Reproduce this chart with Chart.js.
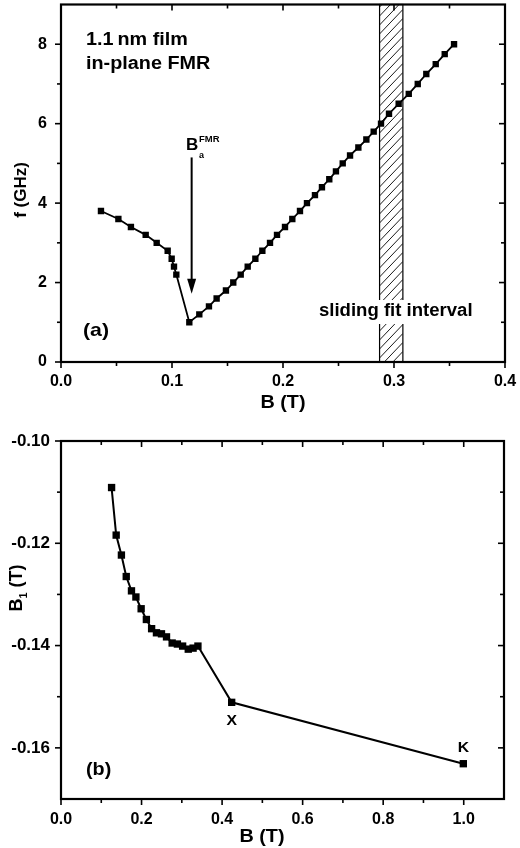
<!DOCTYPE html>
<html><head><meta charset="utf-8">
<script src="https://cdn.jsdelivr.net/npm/chart.js@4/dist/chart.umd.min.js"></script>
<style>
html,body{margin:0;padding:0;background:#fff;width:520px;height:848px;overflow:hidden}
.box{position:absolute;left:0;width:520px}
#b1{top:0;height:420px}
#b2{top:420px;height:428px}
</style></head><body>
<div class="box" id="b1"><canvas id="c1"></canvas></div>
<div class="box" id="b2"><canvas id="c2"></canvas></div>
<script>
// ---------- panel (a) data ----------
const topB = [0.036,0.0517,0.063,0.0763,0.0862,0.0961,0.0997,0.1018,0.1039,
  0.1156,0.1246,0.1333,0.1402,0.1486,0.1552,0.1619,0.1682,0.1751,0.1814,
  0.1883,0.1946,0.2018,0.2084,0.2153,0.2216,0.2288,0.2351,0.2417,0.2477,
  0.2538,0.2604,0.2679,0.2751,0.2817,0.2883,0.2955,0.3042,0.3133,0.3214,
  0.3291,0.3376,0.3457,0.3541];
const topF = [3.8,3.6,3.4,3.2,3.0,2.8,2.6,2.4,2.2,
  1.0,1.2,1.4,1.6,1.8,2.0,2.2,2.4,2.6,2.8,
  3.0,3.2,3.4,3.6,3.8,4.0,4.2,4.4,4.6,4.8,
  5.0,5.2,5.4,5.6,5.8,6.0,6.25,6.5,6.75,7.0,
  7.25,7.5,7.75,8.0];
const topXTicks = [0.0,0.1,0.2,0.3,0.4];
const topXMinor = [0.05,0.15,0.25,0.35];
const topYTicks = [0,2,4,6,8];
const topYMinor = [1,3,5,7];
const fitInterval = [0.287,0.308];
const arrowB = 0.1177, arrowFrom = 5.15, arrowTo = 1.72;

// ---------- panel (b) data ----------
const botB = [0.1256,0.137,0.150,0.162,0.175,0.186,0.199,0.212,0.225,0.237,
  0.2495,0.262,0.276,0.289,0.302,0.316,0.328,0.340,0.4238,0.999];
const botB1 = [-0.1091,-0.1184,-0.1223,-0.1265,-0.1293,-0.1305,-0.1328,-0.1349,-0.1367,-0.1375,
  -0.1377,-0.1383,-0.1395,-0.1397,-0.1401,-0.1407,-0.1405,-0.1401,-0.1511,-0.1631];
const botXTicks = [0.0,0.2,0.4,0.6,0.8,1.0];
const botXMinor = [0.1,0.3,0.5,0.7,0.9];
const botYTicks = [-0.16,-0.14,-0.12,-0.10];
const botYMinor = [-0.15,-0.13,-0.11];
const markLabels = [{i:18,text:'X',dy:23},{i:19,text:'K',dy:-12}];

const FONT = '"Liberation Sans", Arial, sans-serif';

function line(ctx,x1,y1,x2,y2){ctx.beginPath();ctx.moveTo(x1,y1);ctx.lineTo(x2,y2);ctx.stroke();}
// text with a slight horizontal stretch, as in the original figure
function txt(ctx,s,x,y,size,align,sx){
  sx=sx||1.1;
  ctx.save();
  ctx.font='bold '+size+'px '+FONT;
  ctx.textAlign=align||'left';
  ctx.translate(x,y); ctx.scale(sx,1);
  ctx.fillText(s,0,0);
  ctx.restore();
}

function drawFrame(chart, xT, xM, yT, yM){
  const {ctx, chartArea:a, scales:{x,y}} = chart;
  ctx.save();
  ctx.strokeStyle='#000';
  ctx.lineWidth=1.6;
  const MJ=6, MN=4;
  xT.forEach(v=>{const p=x.getPixelForValue(v); line(ctx,p,a.bottom,p,a.bottom+MJ); line(ctx,p,a.top,p,a.top+MJ);});
  xM.forEach(v=>{const p=x.getPixelForValue(v); line(ctx,p,a.bottom,p,a.bottom+MN); line(ctx,p,a.top,p,a.top+MN);});
  yT.forEach(v=>{const p=y.getPixelForValue(v); line(ctx,a.left,p,a.left-MJ,p); line(ctx,a.right,p,a.right-MJ,p);});
  yM.forEach(v=>{const p=y.getPixelForValue(v); line(ctx,a.left,p,a.left-MN,p); line(ctx,a.right,p,a.right-MN,p);});
  ctx.lineWidth=2.2;
  ctx.strokeRect(a.left,a.top,a.right-a.left,a.bottom-a.top);
  ctx.restore();
}

function baseScales(xmin,xmax,xT,xDec,ymin,ymax,yT,yDec,yPad,xPad,xH,ySize){
  return {
    x:{type:'linear',min:xmin,max:xmax,
      afterBuildTicks:s=>{s.ticks=xT.map(v=>({value:v}));},
      afterFit:s=>{s.height=xH;s.paddingLeft=0;s.paddingRight=0;s.paddingTop=0;s.paddingBottom=0;},
      ticks:{color:'#000',font:{family:FONT,size:16,weight:'bold'},padding:xPad,maxRotation:0,autoSkip:false,
        callback:v=>Number(v).toFixed(xDec)},
      grid:{display:false,drawTicks:false},border:{display:false}},
    y:{type:'linear',min:ymin,max:ymax,
      afterBuildTicks:s=>{s.ticks=yT.map(v=>({value:v}));},
      afterFit:s=>{s.width=61;s.paddingLeft=0;s.paddingRight=0;s.paddingTop=0;s.paddingBottom=0;},
      ticks:{color:'#000',font:{family:FONT,size:ySize,weight:'bold'},padding:yPad,autoSkip:false,
        callback:v=>Number(v).toFixed(yDec)},
      grid:{display:false,drawTicks:false},border:{display:false}}
  };
}

// ---------- chart (a) ----------
const plugA = {
  id:'plugA',
  beforeDatasetsDraw(chart){
    const {ctx, chartArea:a, scales:{x,y}} = chart;
    const x0=x.getPixelForValue(fitInterval[0]), x1=x.getPixelForValue(fitInterval[1]);
    const y0=y.getPixelForValue(9), y1=y.getPixelForValue(0);
    ctx.save();
    ctx.beginPath(); ctx.rect(x0,y0,x1-x0,y1-y0); ctx.clip();
    ctx.strokeStyle='#000'; ctx.lineWidth=0.9;
    for(let k=y0-40;k<y1+40;k+=9){ line(ctx,x0,k+(x1-x0)*1.05,x1,k); }
    ctx.restore();
    ctx.save();
    ctx.strokeStyle='#000'; ctx.lineWidth=1.2;
    ctx.strokeRect(x0,y0,x1-x0,y1-y0);
    ctx.fillStyle='#fff'; ctx.fillRect(316,300,158,24);
    ctx.fillStyle='#000'; ctx.textBaseline='alphabetic';
    txt(ctx,'sliding fit interval',319,316,17.5,'left',1.06);
    ctx.restore();
  },
  afterDraw(chart){
    const {ctx, scales:{x,y}} = chart;
    drawFrame(chart, topXTicks, topXMinor, topYTicks, topYMinor);
    ctx.save();
    ctx.fillStyle='#000'; ctx.strokeStyle='#000';
    const ax=x.getPixelForValue(arrowB), ay0=y.getPixelForValue(arrowFrom), ay1=y.getPixelForValue(arrowTo);
    ctx.lineWidth=2; line(ctx,ax,ay0,ax,ay1-12);
    ctx.beginPath(); ctx.moveTo(ax-4.5,ay1-15); ctx.lineTo(ax+4.5,ay1-15); ctx.lineTo(ax,ay1); ctx.closePath(); ctx.fill();
    ctx.textBaseline='alphabetic';
    txt(ctx,'B',186,150,17,'left',1.0);
    txt(ctx,'FMR',199,142,9,'left',1.05);
    txt(ctx,'a',199,158,9,'left',1.0);
    txt(ctx,'1.1\u2009nm film',86,45,18,'left',1.1);
    txt(ctx,'in-plane FMR',86,69,18,'left',1.1);
    txt(ctx,'(a)',83,336,19,'left',1.12);
    txt(ctx,'B (T)',283,408,18,'center',1.1);
    ctx.save(); ctx.translate(26,190); ctx.rotate(-Math.PI/2);
    ctx.font='bold 17px '+FONT; ctx.textAlign='center'; ctx.fillText('f (GHz)',0,0); ctx.restore();
    ctx.restore();
  }
};

new Chart(document.getElementById('c1'),{
  type:'scatter',
  data:{datasets:[{data:topB.map((b,i)=>({x:b,y:topF[i]})),showLine:true,
    borderColor:'#000',borderWidth:1.8,backgroundColor:'#000',pointStyle:'rect',
    pointRadius:4.5,pointBorderWidth:0,pointHoverRadius:4.5}]},
  options:{responsive:true,maintainAspectRatio:false,animation:false,
    layout:{padding:{top:3,right:15,left:0,bottom:0}},
    plugins:{legend:{display:false},tooltip:{enabled:false}},
    scales:baseScales(0,0.4,topXTicks,1,0,9,topYTicks,0,14,10,58,16)},
  plugins:[plugA]
});

// ---------- chart (b) ----------
const plugB = {
  id:'plugB',
  afterDraw(chart){
    const {ctx, scales:{x,y}} = chart;
    drawFrame(chart, botXTicks, botXMinor, botYTicks, botYMinor);
    ctx.save();
    ctx.fillStyle='#000'; ctx.textBaseline='alphabetic';
    markLabels.forEach(m=>{
      const px=x.getPixelForValue(botB[m.i]), py=y.getPixelForValue(botB1[m.i]);
      txt(ctx,m.text,px,py+m.dy,15,'center',1.05);
    });
    txt(ctx,'(b)',86,355,18,'left',1.1);
    txt(ctx,'B (T)',262,422,18,'center',1.1);
    ctx.save(); ctx.translate(22,168); ctx.rotate(-Math.PI/2);
    ctx.textAlign='left';
    ctx.font='bold 18px '+FONT;
    const w1=ctx.measureText('B').width;
    ctx.font='bold 11px '+FONT;
    const w2=ctx.measureText('1').width;
    ctx.font='bold 18px '+FONT;
    const w3=ctx.measureText(' (T)').width;
    let sx=-(w1+w2+w3)/2;
    ctx.fillText('B',sx,0);
    ctx.font='bold 11px '+FONT; ctx.fillText('1',sx+w1,5);
    ctx.font='bold 18px '+FONT; ctx.fillText(' (T)',sx+w1+w2,0);
    ctx.restore();
    ctx.restore();
  }
};

new Chart(document.getElementById('c2'),{
  type:'scatter',
  data:{datasets:[{data:botB.map((b,i)=>({x:b,y:botB1[i]})),showLine:true,
    borderColor:'#000',borderWidth:2,backgroundColor:'#000',pointStyle:'rect',
    pointRadius:5.2,pointBorderWidth:0,pointHoverRadius:5.2}]},
  options:{responsive:true,maintainAspectRatio:false,animation:false,
    layout:{padding:{top:21,right:16,left:0,bottom:0}},
    plugins:{legend:{display:false},tooltip:{enabled:false}},
    scales:baseScales(0,1.1,botXTicks,1,-0.17,-0.10,botYTicks,2,11,11,49,17)},
  plugins:[plugB]
});
</script>
</body></html>
